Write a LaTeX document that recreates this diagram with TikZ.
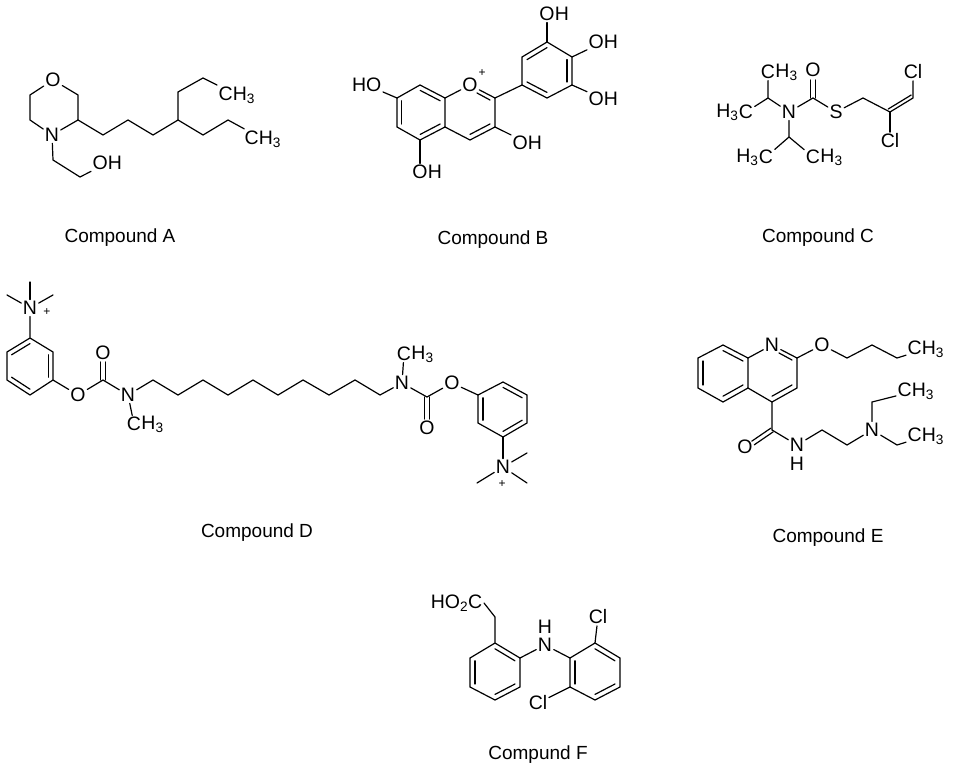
\documentclass[tikz,border=0pt]{standalone}
\usepackage{fontspec}
\setmainfont{Liberation Sans}
\usetikzlibrary{calc}
\tikzset{
 atm/.style={inner sep=1.5pt,font=\fontsize{19.5}{19.5}\selectfont},
 sub/.style={inner sep=0pt,font=\fontsize{19.5}{19.5}\selectfont},
 chg/.style={inner sep=0pt,font=\fontsize{12}{12}\selectfont},
 lbl/.style={inner sep=0pt,font=\fontsize{19}{19}\selectfont},
 bond/.style={line width=1.2pt,line cap=round},
}
\newcommand{\inner}[3]{\draw[bond] ($(#1)!0.2!(#3)$) -- ($(#2)!0.2!(#3)$);}
\newcommand{\dbo}[2]{\draw[bond] ($(#1)!2.2pt!90:(#2)$) -- ($(#2)!2.2pt!-90:(#1)$); \draw[bond] ($(#1)!2.2pt!-90:(#2)$) -- ($(#2)!2.2pt!90:(#1)$);}
\begin{document}
\begin{tikzpicture}[x=1pt,y=-1pt]
\useasboundingbox[fill=white] (0,0) rectangle (955,770);
% ---------- A
\node[atm] (AO) at (53,80) {O};
\coordinate (A2) at (78,95); \coordinate (A3) at (78,120);
\node[atm] (AN) at (52,135) {N};
\coordinate (A5) at (30,120); \coordinate (A6) at (30,95);
\draw[bond] (AO)--(A2)--(A3)--(AN)--(A5)--(A6)--(AO);
\coordinate (A7) at (103,135); \coordinate (A8) at (128,120); \coordinate (A9) at (153,135);
\coordinate (A10) at (178,120); \coordinate (A11) at (178,92); \coordinate (A12) at (203,78);
\coordinate (A13) at (203,135); \coordinate (A14) at (228,120);
\node[atm,anchor=west] (Ame1) at (217,95) {CH\textsubscript{3}};
\node[atm,anchor=west] (Ame2) at (243,139) {CH\textsubscript{3}};
\draw[bond] (A3)--(A7)--(A8)--(A9)--(A10)--(A11)--(A12)--(Ame1);
\draw[bond] (A10)--(A13)--(A14)--(Ame2);
\coordinate (A15) at (53,160); \coordinate (A16) at (80,177);
\node[atm,anchor=west] (AOH) at (91,163) {OH};
\draw[bond] (AN)--(A15)--(A16)--(AOH);
\node[lbl] (LA) at (120,238) {Compound A};
% ---------- B
\coordinate (a1) at (397,98); \coordinate (a2) at (397,127); \coordinate (a3) at (420,140);
\coordinate (a4) at (445,127); \coordinate (a5) at (445,98); \coordinate (a6) at (420,85);
\coordinate (ca) at (421,112);
\node[atm] (BO) at (470,85) {O};
\node[chg] (Bp) at (482,73) {+};
\coordinate (c2) at (495,98); \coordinate (c3) at (495,127); \coordinate (c4) at (470,140);
\coordinate (cb) at (470,112);
\draw[bond] (a1)--(a2)--(a3)--(a4)--(a5)--(a6)--(a1);
\draw[bond] (a5)--(BO)--(c2)--(c3)--(c4)--(a4);
\inner{a1}{a2}{ca}\inner{a3}{a4}{ca}\inner{a5}{a6}{ca}
\inner{c3}{c4}{cb}
\coordinate (Bd1) at (477,93); \coordinate (Bd2) at (490,100);
\draw[bond] (Bd1) -- (Bd2);
\coordinate (p1) at (522,85); \coordinate (p2) at (522,57); \coordinate (p3) at (547,42);
\coordinate (p4) at (572,57); \coordinate (p5) at (572,85); \coordinate (p6) at (547,98);
\coordinate (pc) at (547,70);
\draw[bond] (c2)--(p1)--(p2)--(p3)--(p4)--(p5)--(p6)--(p1);
\inner{p2}{p3}{pc}\inner{p4}{p5}{pc}\inner{p6}{p1}{pc}
\node[atm,anchor=east] (BHO) at (383,85) {HO};
\draw[bond] (BHO)--(a1);
\node[atm,anchor=west] (BOH3) at (511,143) {OH};
\draw[bond] (c3)--(BOH3);
\node[atm] (BO5) at (420,172) {O}; \node[sub,anchor=west,xshift=-1.5pt] (BH5) at (BO5.east) {H};
\draw[bond] (a3)--(BO5);
\node[atm] (BO1) at (547,14) {O}; \node[sub,anchor=west,xshift=-1.5pt] (BH1) at (BO1.east) {H};
\draw[bond] (p3)--(BO1);
\node[atm,anchor=west] (BOH4) at (587,42) {OH};
\draw[bond] (p4)--(BOH4);
\node[atm,anchor=west] (BOH5) at (587,99) {OH};
\draw[bond] (p5)--(BOH5);
\node[lbl] (LB) at (493,240) {Compound B};
% ---------- C
\coordinate (C1) at (768,98);
\node[atm] (Cm1) at (768,72) {C}; \node[sub,anchor=west,xshift=-1.5pt] (Cm1h) at (Cm1.east) {H\textsubscript{3}};
\node[atm] (Cm2) at (746,112) {C}; \node[sub,anchor=east,xshift=1.5pt] (Cm2h) at (Cm2.west) {H\textsubscript{3}};
\node[atm] (CN) at (789,112) {N};
\coordinate (C2) at (789,137);
\node[atm] (Cm3) at (766,157) {C}; \node[sub,anchor=east,xshift=1.5pt] (Cm3h) at (Cm3.west) {H\textsubscript{3}};
\node[atm] (Cm4) at (813,157) {C}; \node[sub,anchor=west,xshift=-1.5pt] (Cm4h) at (Cm4.east) {H\textsubscript{3}};
\draw[bond] (Cm1)--(C1)--(Cm2); \draw[bond] (C1)--(CN)--(C2)--(Cm3); \draw[bond] (C2)--(Cm4);
\coordinate (C3) at (813,98);
\node[atm] (CO) at (813,70) {O}; \coordinate (COe) at (813,80);
\dbo{C3}{COe}
\node[atm] (CS) at (836,112) {S};
\coordinate (C4) at (863,98); \coordinate (C5) at (890,112); \coordinate (C6) at (913,98);
\node[atm] (CCl1) at (890,141) {Cl}; \node[atm] (CCl2) at (913,72) {Cl};
\draw[bond] (CN)--(C3)--(CS)--(C4)--(C5)--(C6)--(CCl2); \draw[bond] (C5)--(CCl1);
\draw[bond] ($(C5)!3.5pt!90:(C6)$) -- ($(C6)!3.5pt!-90:(C5)$);
\node[lbl] (LC) at (818,238) {Compound C};
% ---------- D
\node[atm] (DN1) at (30,308) {N}; \node[chg] (Dp1) at (47,312) {+};
\coordinate (Dm1) at (30,282); \coordinate (Dm2) at (7,295); \coordinate (Dm3) at (53,295);
\draw[bond] (DN1)--(Dm1); \draw[bond] (DN1)--(Dm2); \draw[bond] (DN1)--(Dm3);
\coordinate (d1) at (30,338); \coordinate (d2) at (53,352); \coordinate (d3) at (53,380);
\coordinate (d4) at (30,395); \coordinate (d5) at (7,380); \coordinate (d6) at (7,352);
\coordinate (dc) at (30,366);
\draw[bond] (DN1)--(d1)--(d2)--(d3)--(d4)--(d5)--(d6)--(d1);
\inner{d2}{d3}{dc}\inner{d4}{d5}{dc}\inner{d6}{d1}{dc}
\node[atm] (DO1) at (78,395) {O};
\coordinate (D1) at (103,380);
\node[atm] (DO2) at (103,353) {O}; \coordinate (DO2e) at (103,362);
\dbo{D1}{DO2e}
\node[atm] (DN2) at (128,395) {N};
\node[atm] (Dm4) at (134,424) {C}; \node[sub,anchor=west,xshift=-1.5pt] (Dm4h) at (Dm4.east) {H\textsubscript{3}};
\draw[bond] (d3)--(DO1)--(D1)--(DN2)--(Dm4);
\coordinate (k1) at (153,380); \coordinate (k2) at (178,395); \coordinate (k3) at (203,380);
\coordinate (k4) at (228,395); \coordinate (k5) at (253,380); \coordinate (k6) at (278,395);
\coordinate (k7) at (303,380); \coordinate (k8) at (329,395); \coordinate (k9) at (355,380);
\coordinate (k10) at (380,395);
\node[atm] (DN3) at (402,383) {N};
\draw[bond] (DN2)--(k1)--(k2)--(k3)--(k4)--(k5)--(k6)--(k7)--(k8)--(k9)--(k10)--(DN3);
\node[atm] (Dm5) at (404,354) {C}; \node[sub,anchor=west,xshift=-1.5pt] (Dm5h) at (Dm5.east) {H\textsubscript{3}};
\draw[bond] (DN3)--(Dm5);
\coordinate (D2) at (427,397);
\node[atm] (DO3) at (427,428) {O}; \coordinate (DO3e) at (427,419);
\dbo{D2}{DO3e}
\node[atm] (DO4) at (452,383) {O};
\coordinate (e1) at (478,395); \coordinate (e2) at (503,382); \coordinate (e3) at (527,395);
\coordinate (e4) at (527,423); \coordinate (e5) at (503,437); \coordinate (e6) at (478,423);
\coordinate (ec) at (503,409);
\draw[bond] (DN3)--(D2)--(DO4)--(e1)--(e2)--(e3)--(e4)--(e5)--(e6)--(e1);
\inner{e2}{e3}{ec}\inner{e4}{e5}{ec}\inner{e6}{e1}{ec}
\node[atm] (DN4) at (503,467) {N}; \node[chg] (Dp2) at (502,484) {+};
\coordinate (Dm6) at (527,453); \coordinate (Dm7) at (477,483); \coordinate (Dm8) at (527,483);
\draw[bond] (e5)--(DN4); \draw[bond] (DN4)--(Dm6); \draw[bond] (DN4)--(Dm7); \draw[bond] (DN4)--(Dm8);
\node[lbl] (LD) at (257,533) {Compound D};
% ---------- E
\coordinate (q1) at (723,345); \coordinate (q2) at (748,358); \coordinate (q3) at (748,388);
\coordinate (q4) at (723,402); \coordinate (q5) at (698,388); \coordinate (q6) at (698,358);
\coordinate (qc) at (723,373);
\node[atm] (EN) at (772,345) {N};
\coordinate (q8) at (797,358); \coordinate (q9) at (797,388); \coordinate (q10) at (772,402);
\coordinate (qd) at (772,373);
\draw[bond] (q1)--(q2)--(q3)--(q4)--(q5)--(q6)--(q1);
\draw[bond] (q2)--(EN)--(q8)--(q9)--(q10)--(q3);
\inner{q1}{q2}{qc}\inner{q3}{q4}{qc}\inner{q5}{q6}{qc}
\coordinate (Ed1) at (779,353); \coordinate (Ed2) at (792,360);
\draw[bond] (Ed1) -- (Ed2);
\inner{q9}{q10}{qd}
\node[atm] (EO1) at (822,345) {O};
\coordinate (E1) at (847,358); \coordinate (E2) at (872,345); \coordinate (E3) at (897,358);
\node[atm,anchor=west] (Em1) at (906,349) {CH\textsubscript{3}};
\draw[bond] (q8)--(EO1)--(E1)--(E2)--(E3)--(Em1);
\coordinate (E4) at (772,430);
\node[atm] (EO2) at (745,447) {O}; \coordinate (EO2e) at (753,443);
\dbo{E4}{EO2e}
\node[atm] (EN2) at (797,445) {N}; \node[atm] (EH) at (797,464) {H};
\coordinate (E5) at (822,430); \coordinate (E6) at (847,445);
\node[atm] (EN3) at (872,430) {N};
\coordinate (E7) at (872,402); \coordinate (E8) at (897,445);
\node[atm,anchor=west] (Em2) at (896,391) {CH\textsubscript{3}};
\node[atm,anchor=west] (Em3) at (906,436) {CH\textsubscript{3}};
\draw[bond] (q10)--(E4)--(EN2)--(E5)--(E6)--(EN3)--(E7)--(Em2);
\draw[bond] (EN3)--(E8)--(Em3);
\node[lbl] (LE) at (828,538) {Compound E};
% ---------- F
\node[atm,anchor=east] (FHO) at (484,603) {HO\textsubscript{2}C};
\coordinate (F0) at (495,617);
\coordinate (f1) at (495,643); \coordinate (f2) at (520,658); \coordinate (f3) at (520,687);
\coordinate (f4) at (495,700); \coordinate (f5) at (470,687); \coordinate (f6) at (470,658);
\coordinate (fc) at (495,672);
\draw[bond] (FHO.east)--(F0)--(f1)--(f2)--(f3)--(f4)--(f5)--(f6)--(f1);
\inner{f1}{f2}{fc}\inner{f3}{f4}{fc}\inner{f5}{f6}{fc}
\node[atm] (FN) at (545,645) {N}; \node[atm] (FH) at (545,627) {H};
\coordinate (g1) at (570,658); \coordinate (g2) at (595,643); \coordinate (g3) at (620,658);
\coordinate (g4) at (620,687); \coordinate (g5) at (595,700); \coordinate (g6) at (570,687);
\coordinate (gc) at (595,672);
\draw[bond] (f2)--(FN)--(g1)--(g2)--(g3)--(g4)--(g5)--(g6)--(g1);
\inner{g1}{g6}{gc}\inner{g2}{g3}{gc}\inner{g4}{g5}{gc}
\node[atm] (FCl1) at (598,617) {Cl}; \node[atm] (FCl2) at (538,703) {Cl};
\draw[bond] (g2)--(FCl1); \draw[bond] (g6)--(FCl2);
\node[lbl] (LF) at (538,755) {Compund F};
\end{tikzpicture}
\end{document}
